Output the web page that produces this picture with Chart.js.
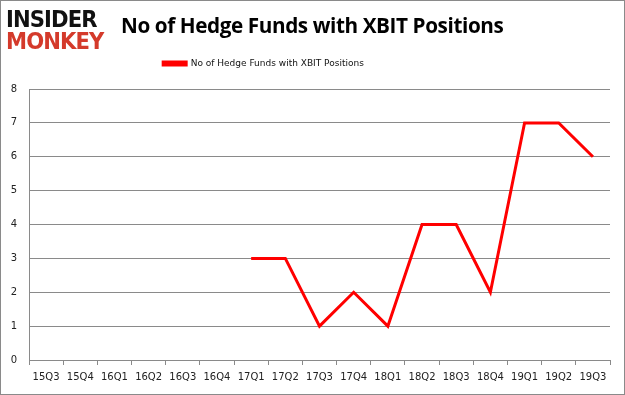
<!DOCTYPE html>
<html>
<head>
<meta charset="utf-8">
<script src="https://cdn.jsdelivr.net/npm/chart.js@4.4.0/dist/chart.umd.min.js"></script>
<style>
  html, body { margin: 0; padding: 0; background: #fff; }
  #wrap { position: relative; width: 623px; height: 393px; border: 1px solid #8a8a8a; overflow: hidden; }
  #chart { position: absolute; left: 0; top: 0; }
  .logo { position: absolute; left: 5px; font-family: "DejaVu Sans", sans-serif; font-weight: bold; font-size: 23px; line-height: 20px; letter-spacing: -1px; transform: scaleX(0.92); transform-origin: left; }
  #logo1 { top: 8px; color: #111; }
  #logo2 { top: 30px; color: #d43a2b; }
  #title { position: absolute; left: 120px; top: 10px; font-family: "Open Sans", sans-serif; font-weight: bold; font-size: 20.7px; color: #000; letter-spacing: -0.4px; }
</style>
</head>
<body>
<div id="wrap">
  <canvas id="chart" width="623" height="393"></canvas>
  <div class="logo" id="logo1">INSIDER</div>
  <div class="logo" id="logo2">MONKEY</div>
  <div id="title">No of Hedge Funds with XBIT Positions</div>
</div>
<script>
const quarters = ['15Q3', '15Q4', '16Q1', '16Q2', '16Q3', '16Q4', '17Q1', '17Q2', '17Q3', '17Q4', '18Q1', '18Q2', '18Q3', '18Q4', '19Q1', '19Q2', '19Q3'];
const hedgeFunds = [null, null, null, null, null, null, 3, 3, 1, 2, 1, 4, 4, 2, 7, 7, 6];
const yTicks = [0, 1, 2, 3, 4, 5, 6, 7, 8];

const tickFont = { family: 'DejaVu Sans', size: 10 };

// extra room under the legend, and the legend sits a bit left of centre
const legendTweak = {
    id: 'legendTweak',
    afterInit(chart) {
        const fit = chart.legend.fit;
        chart.legend.fit = function () {
            fit.call(this);
            this.height += 11;
        };
    },
    afterLayout(chart) {
        chart.legend.right -= 84;
    }
};

new Chart(document.getElementById('chart'), {
    type: 'line',
    data: {
        labels: quarters,
        datasets: [{
            label: 'No of Hedge Funds with XBIT Positions',
            data: hedgeFunds,
            borderColor: '#ff0000',
            backgroundColor: '#ff0000',
            borderWidth: 3,
            pointRadius: 0,
            tension: 0,
            spanGaps: false
        }]
    },
    plugins: [legendTweak],
    options: {
        responsive: false,
        animation: false,
        layout: { padding: { top: 48, right: 14, bottom: 4, left: 0 } },
        plugins: {
            legend: {
                labels: {
                    font: { family: 'DejaVu Sans', size: 9 },
                    color: '#111',
                    boxWidth: 23,
                    boxHeight: 3,
                    padding: 10
                }
            },
            tooltip: { enabled: false }
        },
        scales: {
            x: {
                offset: true,
                grid: { display: true, drawOnChartArea: false, offset: true, color: '#8a8a8a', tickLength: 5 },
                border: { color: '#8a8a8a' },
                ticks: { font: tickFont, color: '#222', maxRotation: 0, autoSkip: false, padding: 6 },
                afterFit: s => { s.height = 30; }
            },
            y: {
                min: 0,
                max: 8,
                afterBuildTicks: s => { s.ticks = yTicks.map(v => ({ value: v })); },
                grid: { color: '#8a8a8a', tickLength: 0 },
                border: { color: '#8a8a8a' },
                ticks: { font: tickFont, color: '#222', padding: 12 },
                afterFit: s => { s.width = 28; }
            }
        }
    }
});
</script>
</body>
</html>
